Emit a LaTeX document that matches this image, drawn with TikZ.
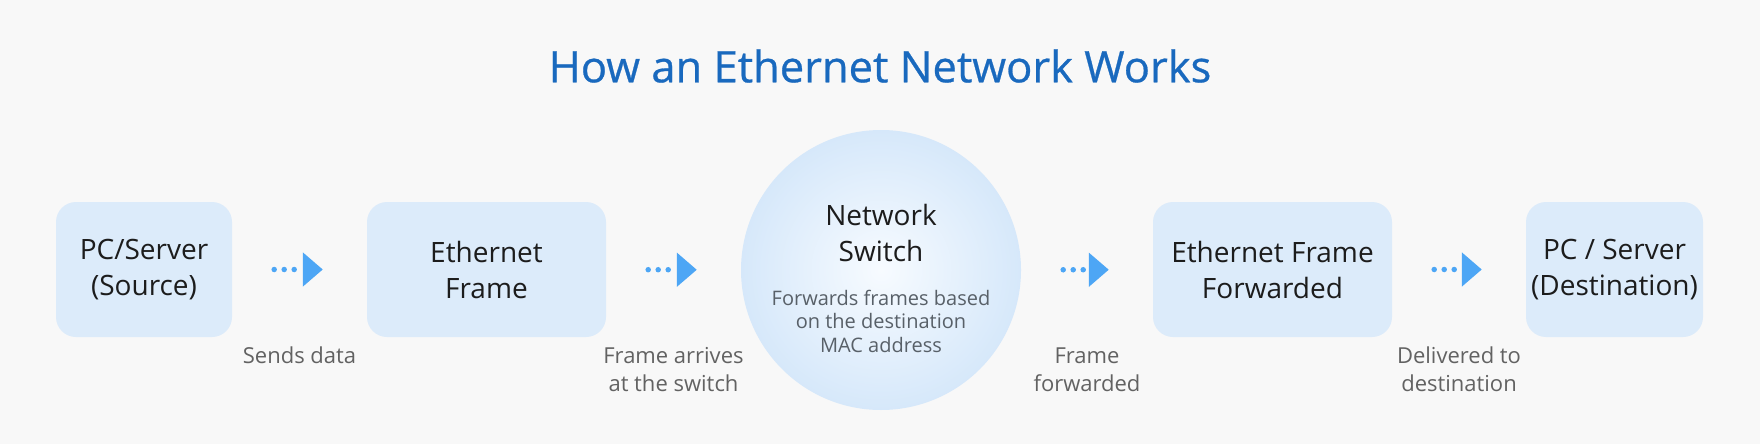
\documentclass[tikz,border=0pt]{standalone}
\usepackage{fontspec}
\setmainfont{Open Sans}
\newfontfamily\titlefont[FakeBold=0.6]{Open Sans}
\usepackage{tikz}
\usetikzlibrary{shapes,arrows.meta,positioning}
\definecolor{PageGray}{RGB}{248, 248, 248}
\definecolor{TitleBlue}{RGB}{25, 105, 190}
\definecolor{BoxBlue}{RGB}{220, 235, 250}
\definecolor{RingBlue}{RGB}{214, 232, 250}
\definecolor{CoreBlue}{RGB}{247, 251, 255}
\definecolor{ArrowBlue}{RGB}{77, 166, 245}
\definecolor{TextDark}{RGB}{28, 28, 28}
\definecolor{LabelGray}{RGB}{98, 98, 98}
\definecolor{NoteGray}{RGB}{88, 96, 104}

\begin{document}
\begin{tikzpicture}[x=1pt, y=-1pt,
    stage/.style={rectangle, rounded corners=20pt, fill=BoxBlue, minimum height=135pt,
      text=TextDark, align=center, font=\fontsize{28}{36}\selectfont},
    flow/.style={ArrowBlue, line width=5.5pt, line cap=round, dash pattern=on 0pt off 10pt,
      shorten <=42pt, shorten >=44pt, -{Triangle[length=20pt, width=33pt]}},
    note/.style={text=LabelGray, align=center, inner sep=0pt, font=\fontsize{22}{28}\selectfont}]

    \fill[PageGray] (0,0) rectangle (1760,444);
    \node[text=TitleBlue, font=\titlefont\fontsize{43.5}{50}\selectfont] (title) at (880,66) {How an Ethernet Network Works};

    % Sender and frame
    \node[stage, minimum width=176pt] (src) at (144,269.5) {PC/Server\\(Source)};
    \node[stage, minimum width=239pt] (frame) at (486.5,269.5) {Ethernet\\Frame};

    % Switch in the middle
    \node[circle, minimum size=280pt, inner color=CoreBlue, outer color=RingBlue] (switch) at (881,270) {};
    \node[text=TextDark, align=center, font=\fontsize{28}{36}\selectfont] (swname) at (881,233) {Network\\Switch};
    \node[text=NoteGray, align=center, font=\fontsize{20}{23.5}\selectfont] (swnote) at (881,321) {Forwards frames based\\on the destination\\MAC address};

    % Forwarded frame and receiver
    \node[stage, minimum width=239pt] (fwd) at (1272.5,269.5) {Ethernet Frame\\Forwarded};
    \node[stage, minimum width=177pt] (dst) at (1614.5,269.5) {PC / Server\\(Destination)};

    % Flow arrows
    \draw[flow] (src) -- node[note, below=75pt] (l1) {Sends data} (frame);
    \draw[flow] (frame) -- node[note, below=75pt] (l2) {Frame arrives\\at the switch} (switch);
    \draw[flow] (switch) -- node[note, below=75pt] (l3) {Frame\\forwarded} (fwd);
    \draw[flow] (fwd) -- node[note, below=75pt] (l4) {Delivered to\\destination} (dst);
\end{tikzpicture}
\end{document}
